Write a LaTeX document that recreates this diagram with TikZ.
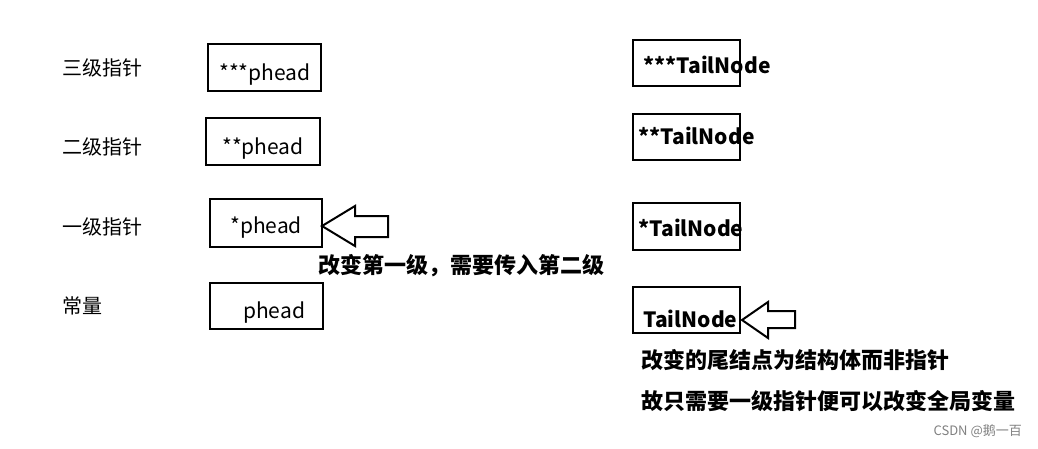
\documentclass[tikz,border=0pt]{standalone}
\usepackage{fontspec}
\setmainfont{Noto Sans CJK SC}
\begin{document}
\begin{tikzpicture}[x=1pt,y=-1pt,
  box/.style={draw,line width=2pt},
  lbl/.style={anchor=west,inner sep=0pt,font=\fontsize{21}{24}\selectfont},
  blbl/.style={anchor=west,inner sep=0pt,font=\fontsize{21}{24}\selectfont\bfseries},
  cn/.style={anchor=west,inner sep=0pt,font=\fontsize{20}{24}\selectfont},
  bcn/.style={anchor=west,inner sep=0pt,font=\fontsize{22}{24}\selectfont\bfseries},
  barrow/.style={draw,line width=2pt,fill=white}]
\useasboundingbox (0,0) rectangle (1038,448);
\draw[box] (208,44) rectangle (321,91);
\draw[box] (206,118) rectangle (320,165);
\draw[box] (210,199) rectangle (322,247);
\draw[box] (210,283) rectangle (323,329);
\node[lbl] (p3) at (219,75) {***phead};
\node[lbl] (p2) at (222,149) {**phead};
\node[lbl] (p1) at (230,228) {*phead};
\node[lbl] (p0) at (243,313) {phead};
\draw[box] (633,40) rectangle (740,86);
\draw[box] (633,114) rectangle (740,160);
\draw[box] (633,203) rectangle (740,250);
\draw[box] (633,287) rectangle (740,333);
\node[blbl] (t3) at (643,65) {***TailNode};
\node[blbl] (t2) at (638,136) {**TailNode};
\node[blbl] (t1) at (638,228) {*TailNode};
\node[blbl] (t0) at (643,319) {TailNode};
\node[cn] (l3) at (62,68) {三级指针};
\node[cn] (l2) at (62,147) {二级指针};
\node[cn] (l1) at (62,227) {一级指针};
\node[cn] (l0) at (62,306) {常量};
\draw[barrow] (322,226) -- (355,206) -- (355,216) -- (388,216) -- (388,237) -- (355,237) -- (355,246) -- cycle;
\draw[barrow] (742,320) -- (768,302) -- (768,311) -- (795,311) -- (795,328) -- (768,328) -- (768,338) -- cycle;
\node[bcn] (n1) at (318,266) {改变第一级，需要传入第二级};
\node[bcn] (n2) at (641,360) {改变的尾结点为结构体而非指针};
\node[bcn] (n3) at (641,401) {故只需要一级指针便可以改变全局变量};
\node[anchor=east,inner sep=0pt,text=gray,font=\fontsize{13}{15}\selectfont] (w) at (1022,431) {CSDN @鹅一百};
\end{tikzpicture}
\end{document}
